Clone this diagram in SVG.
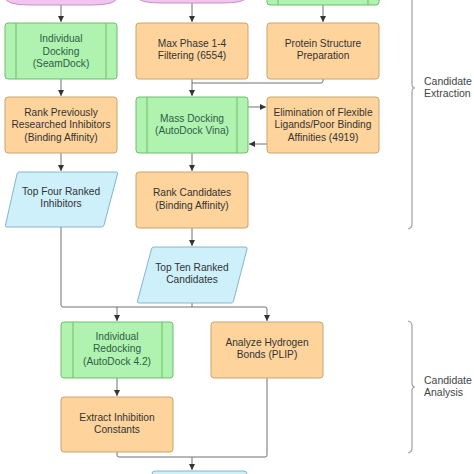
<svg xmlns="http://www.w3.org/2000/svg" width="474" height="474" viewBox="0 0 474 474">
<defs>
<style>
.g{fill:#b0f2b0;stroke:#6cbf6c;stroke-width:1}
.o{fill:#fed49c;stroke:#c9a46e;stroke-width:1}
.b{fill:#cdf0fb;stroke:#85b6c8;stroke-width:1}
.p{fill:#f3c4f0;stroke:#c98fc4;stroke-width:1}
.il{stroke:#6cbf6c;stroke-width:1;fill:none}
text{font-family:"Liberation Sans",Arial,sans-serif;font-size:10.2px;text-anchor:middle;fill:#333}
.gt{fill:#2f5f45}
.side{text-anchor:start;font-size:10.5px;fill:#444}
.c{fill:none;stroke:#707070;stroke-width:1}
.br{fill:none;stroke:#a0a0a0;stroke-width:1.2}
</style>
<marker id="ar" viewBox="0 0 8 8" refX="8" refY="4" markerWidth="6" markerHeight="6" markerUnits="userSpaceOnUse" orient="auto">
<path d="M0,0 L8,4 L0,8 Z" fill="#333"/>
</marker>
</defs>

<g id="connectors">
<path class="c" d="M61,5 V22" marker-end="url(#ar)"/>
<path class="c" d="M192,3 V22" marker-end="url(#ar)"/>
<path class="c" d="M323,5 V22" marker-end="url(#ar)"/>
<path class="c" d="M61,79 V96" marker-end="url(#ar)"/>
<path class="c" d="M192,79 V96" marker-end="url(#ar)"/>
<path class="c" d="M323,79 V81 Q323,83 321,83 H192"/>
<path class="c" d="M61,153 V171" marker-end="url(#ar)"/>
<path class="c" d="M248,107 H266" marker-end="url(#ar)"/>
<path class="c" d="M267,144 H249" marker-end="url(#ar)"/>
<path class="c" d="M192,153 V171" marker-end="url(#ar)"/>
<path class="c" d="M192,228 V246" marker-end="url(#ar)"/>
<path class="c" d="M61,227 V305 Q61,307 63,307 H265 Q267,307 267,309 V321" marker-end="url(#ar)"/>
<path class="c" d="M192,303 V307"/>
<path class="c" d="M117,307 V321" marker-end="url(#ar)"/>
<path class="c" d="M117,378 V396" marker-end="url(#ar)"/>
<path class="c" d="M117,452 V455 Q117,457 119,457 H265 Q267,457 267,455 V378"/>
<path class="c" d="M192,457 V470" marker-end="url(#ar)"/>
</g>

<g id="start-left"><path class="p" d="M5,-10 V-3 Q5,5 30,5 H92 Q117,5 117,-3 V-10 Z"/></g>
<g id="start-center"><path class="p" d="M136,-10 V-5 Q136,3 161,3 H223 Q248,3 248,-5 V-10 Z"/></g>
<g id="top-right"><rect class="g" x="267" y="-10" width="112" height="15" rx="3"/><path class="il" d="M278,-10 V5 M368,-10 V5"/></g>

<g id="individual-docking">
<rect class="g" x="5" y="23" width="112" height="56" rx="3"/>
<path class="il" d="M16,23 V79 M106,23 V79"/>
<text class="gt" x="61" y="41.5">Individual</text>
<text class="gt" x="61" y="54.5">Docking</text>
<text class="gt" x="61" y="66.5">(SeamDock)</text>
</g>

<g id="max-phase">
<rect class="o" x="136" y="23" width="112" height="56" rx="3"/>
<text x="192" y="46.5">Max Phase 1-4</text>
<text x="192" y="58.5">Filtering (6554)</text>
</g>

<g id="protein-prep">
<rect class="o" x="267" y="23" width="112" height="56" rx="3"/>
<text x="323" y="46.5">Protein Structure</text>
<text x="323" y="58.5">Preparation</text>
</g>

<g id="rank-previous">
<rect class="o" x="5" y="97" width="112" height="56" rx="3"/>
<text x="61" y="115.5">Rank Previously</text>
<text x="61" y="127.5">Researched Inhibitors</text>
<text x="61" y="140.5">(Binding Affinity)</text>
</g>

<g id="mass-docking">
<rect class="g" x="136" y="97" width="112" height="56" rx="3"/>
<path class="il" d="M147,97 V153 M237,97 V153"/>
<text class="gt" x="192" y="121.5">Mass Docking</text>
<text class="gt" x="192" y="133.5">(AutoDock Vina)</text>
</g>

<g id="elimination">
<rect class="o" x="267" y="97" width="112" height="56" rx="3"/>
<text x="323" y="115.5">Elimination of Flexible</text>
<text x="323" y="127.5">Ligands/Poor Binding</text>
<text x="323" y="140.5">Affinities (4919)</text>
</g>

<g id="top-four">
<path class="b" d="M19,172 H116 Q118,172 117.5,174 L104,225 Q103.5,227 101.5,227 H7 Q5,227 5.5,225 L17,174 Q17.5,172 19,172 Z"/>
<text x="61" y="194.5">Top Four Ranked</text>
<text x="61" y="206.5">Inhibitors</text>
</g>

<g id="rank-candidates">
<rect class="o" x="136" y="172" width="112" height="56" rx="3"/>
<text x="192" y="195.5">Rank Candidates</text>
<text x="192" y="208.5">(Binding Affinity)</text>
</g>

<g id="top-ten">
<path class="b" d="M154,247 H245 Q247.5,247 247,249 L233.5,301 Q233,303 231,303 H139.5 Q137,303 137.5,301 L151.5,249 Q152,247 154,247 Z"/>
<text x="192" y="270.5">Top Ten Ranked</text>
<text x="192" y="282.5">Candidates</text>
</g>

<g id="redocking">
<rect class="g" x="61" y="322" width="112" height="56" rx="3"/>
<path class="il" d="M73,322 V378 M162,322 V378"/>
<text class="gt" x="117" y="339.5">Individual</text>
<text class="gt" x="117" y="351.5">Redocking</text>
<text class="gt" x="117" y="364.5">(AutoDock 4.2)</text>
</g>

<g id="analyze-hbonds">
<rect class="o" x="211" y="322" width="112" height="56" rx="3"/>
<text x="267" y="345.5">Analyze Hydrogen</text>
<text x="267" y="357.5">Bonds (PLIP)</text>
</g>

<g id="extract-constants">
<rect class="o" x="61" y="397" width="112" height="55" rx="3"/>
<text x="117" y="420.5">Extract Inhibition</text>
<text x="117" y="432.5">Constants</text>
</g>

<g id="bottom-node"><rect class="b" x="152" y="471" width="95" height="20" rx="3"/></g>

<g id="brace-extraction">
<path class="br" d="M412,-5 V84 Q412,88 415,88 Q412,88 412,92 V224 Q412,228 408,229"/>
<text class="side" x="424" y="84.5">Candidate</text>
<text class="side" x="424" y="96.5">Extraction</text>
</g>

<g id="brace-analysis">
<path class="br" d="M408,321 Q412,322 412,326 V383 Q412,387 415,387 Q412,387 412,391 V448 Q412,452 408,453"/>
<text class="side" x="424" y="383.5">Candidate</text>
<text class="side" x="424" y="395.5">Analysis</text>
</g>
</svg>
